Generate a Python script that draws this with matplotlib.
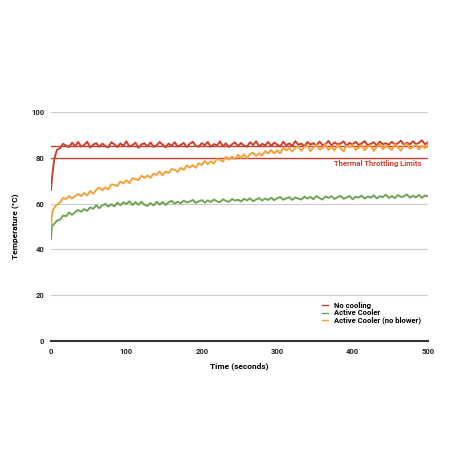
import matplotlib
matplotlib.use("Agg")
import matplotlib.pyplot as plt

# sample times (seconds), denser at the start where the curves jump
time_s = [0, 1, 2, 3, 4, 6, 8] + list(range(12, 501, 4))

no_cooling = [66, 70, 73, 76, 78.5, 81.5, 83.5,
    84.2, 86.1, 85.3, 84.7, 86.6, 85.0, 86.9, 84.9, 85.6, 87.0,
    84.5, 85.8, 86.4, 84.8, 86.2, 85.1, 84.6, 86.8, 85.9, 84.7,
    86.3, 85.2, 87.2, 84.9, 85.5, 86.6, 84.4, 85.9, 86.3, 85.0,
    86.7, 84.8, 85.4, 86.9, 85.7, 84.6, 86.2, 85.3, 86.8, 84.9,
    85.6, 86.5, 84.7, 86.1, 87.0, 85.2, 84.9, 86.4, 85.5, 86.9,
    84.8, 86.0, 85.4, 87.1, 85.0, 86.3, 84.7, 85.9, 86.7, 85.1,
    86.5, 85.3, 84.9, 86.8, 85.6, 87.2, 85.0, 86.1, 85.4, 86.9,
    85.2, 86.6, 85.8, 84.9, 87.0, 85.5, 86.3, 85.1, 87.3, 85.7,
    86.2, 85.0, 86.9, 85.8, 86.4, 85.3, 87.1, 85.6, 86.0, 87.4,
    85.4, 86.7, 85.9, 86.2, 87.2, 85.3, 86.5, 85.8, 87.0, 85.6,
    86.3, 87.3, 85.5, 86.1, 86.8, 85.4, 87.1, 85.9, 86.4, 85.7,
    87.0, 85.8, 86.3, 87.5, 85.6, 86.6, 85.9, 87.2, 86.0, 86.5,
    87.6, 85.9, 86.8]

active_cooler = [44.5, 49.5, 50.3, 50.8, 51.0, 51.8, 52.6,
    53.0, 54.8, 54.5, 56.1, 55.1, 56.3, 57.2, 56.4, 57.6, 56.8,
    58.4, 57.7, 59.3, 58.0, 59.2, 59.9, 58.7, 59.7, 58.8, 60.4,
    59.3, 60.6, 59.8, 61.0, 59.4, 60.6, 59.5, 60.8, 59.5, 59.0,
    60.2, 59.2, 60.8, 59.6, 60.7, 59.4, 60.6, 61.2, 60.0, 60.8,
    60.1, 61.3, 60.5, 60.9, 61.6, 60.3, 61.0, 61.5, 60.4, 61.4,
    60.7, 61.8, 61.0, 60.6, 61.9, 61.2, 60.8, 62.0, 61.3, 61.7,
    60.9, 62.1, 61.4, 62.3, 61.0, 61.8, 62.4, 61.3, 62.2, 61.6,
    62.6, 61.5, 62.4, 62.9, 61.7, 62.3, 62.8, 61.6, 62.7, 62.2,
    61.8, 63.0, 62.2, 62.9, 61.9, 63.3, 62.4, 61.8, 63.1, 62.5,
    63.2, 62.0, 62.8, 63.4, 62.1, 62.7, 63.3, 61.9, 63.0, 62.6,
    63.5, 62.2, 63.1, 62.6, 63.6, 62.3, 63.2, 62.8, 63.9, 62.5,
    63.3, 62.4, 63.7, 62.9, 63.2, 64.0, 62.6, 63.4, 62.7, 63.8,
    62.5, 63.6, 63.1]

no_blower = [50, 54, 56.5, 57.5, 58, 59, 59.5,
    60.4, 62.5, 62.0, 63.3, 62.2, 63.2, 64.2, 63.3, 64.6, 63.6,
    65.5, 64.3, 66.0, 67.0, 65.8, 67.1, 66.2, 68.4, 68.2, 67.7,
    69.7, 68.8, 70.2, 68.9, 71.1, 70.7, 70.2, 72.2, 71.2, 72.3,
    71.3, 73.1, 72.5, 74.1, 72.4, 74.0, 73.4, 75.1, 74.8, 73.8,
    75.7, 74.7, 76.7, 75.7, 76.8, 75.6, 77.7, 76.8, 78.6, 77.2,
    78.5, 77.5, 79.4, 79.2, 78.3, 80.4, 79.2, 80.5, 79.3, 81.3,
    79.9, 81.5, 79.8, 81.6, 82.3, 80.8, 82.0, 81.0, 82.9, 81.9,
    83.4, 81.9, 83.3, 81.9, 84.3, 83.2, 84.3, 82.7, 84.3, 85.0,
    83.1, 84.8, 85.4, 82.9, 84.5, 85.7, 83.6, 84.2, 85.9, 83.4,
    84.9, 83.2, 85.6, 84.1, 82.8, 85.3, 84.6, 85.8, 83.5, 84.4,
    85.7, 83.3, 84.9, 85.5, 83.0, 84.7, 86.0, 83.8, 85.2, 84.3,
    83.4, 85.9, 84.6, 83.1, 85.4, 86.1, 83.9, 84.8, 85.6, 83.6,
    85.3, 84.2, 85.8]

throttle_limits = [80, 85]
y_ticks = [0, 20, 40, 60, 80, 100]
x_ticks = [0, 100, 200, 300, 400, 500]

RED = "#c9402f"
GREEN = "#6fa552"
ORANGE = "#f4a13a"

plt.rcParams['font.family'] = ['Roboto', 'DejaVu Sans']

fig = plt.figure(figsize=(4.74, 4.74), dpi=100)
ax = fig.add_axes([0.1076, 0.2806, 0.7954, 0.4831])

for lim in throttle_limits:
    ax.axhline(lim, color=RED, lw=1.0, zorder=2)

ax.plot(time_s, no_cooling, color=RED, lw=1.4, label="No cooling", zorder=3)
ax.plot(time_s, active_cooler, color=GREEN, lw=1.4, label="Active Cooler", zorder=3)
ax.plot(time_s, no_blower, color=ORANGE, lw=1.4, label="Active Cooler (no blower)", zorder=3)

ax.text(492, 77.3, "Thermal Throttling Limits", color=RED, fontsize=5.5,
        fontweight='bold', ha='right', va='center')

ax.set_xlim(0, 500)
ax.set_ylim(0, 100)
ax.set_xticks(x_ticks)
ax.set_yticks(y_ticks)
ax.grid(axis='y', color='#cccccc', lw=0.8, zorder=0)
ax.set_axisbelow(True)
for s in ['top', 'right', 'left']:
    ax.spines[s].set_visible(False)
ax.spines['bottom'].set_color('#333333')
ax.spines['bottom'].set_linewidth(1.5)
ax.tick_params(length=0, labelsize=5.5, colors='#222222', pad=5)
for lbl in ax.get_xticklabels() + ax.get_yticklabels():
    lbl.set_fontweight('bold')

ax.set_xlabel("Time (seconds)", fontsize=6, fontweight='bold', labelpad=5)
ax.set_ylabel("Temperature (°C)", fontsize=6, fontweight='bold', labelpad=8)

leg = ax.legend(loc='upper left', bbox_to_anchor=(0.672, 0.371),
                bbox_transform=fig.transFigure, frameon=False, fontsize=5.5,
                handlelength=0.8, handletextpad=0.7, labelspacing=0.05,
                borderpad=0)
for t in leg.get_texts():
    t.set_fontweight('bold')
for h in leg.get_lines():
    h.set_linewidth(1.0)

fig.savefig("out.png", dpi=100)
